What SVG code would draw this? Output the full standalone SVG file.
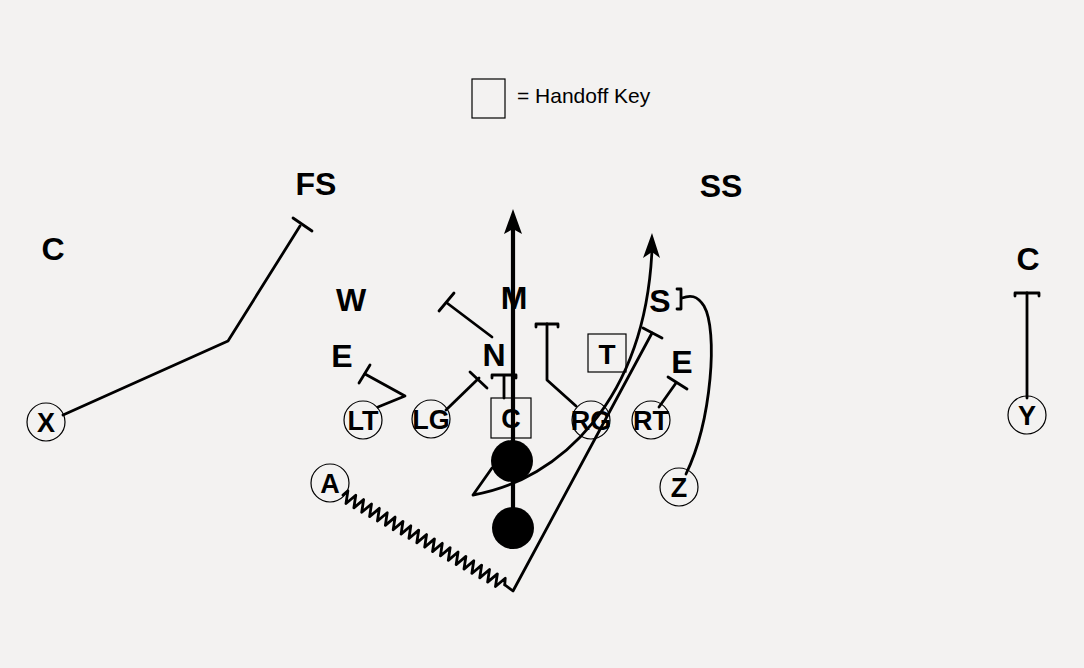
<svg xmlns="http://www.w3.org/2000/svg" width="1084" height="668" viewBox="0 0 1084 668">
<defs>
<style>
.bg{fill:#f3f2f1}
.lbl{font-family:"Liberation Sans",Arial,sans-serif;font-weight:bold;font-size:32px;fill:#000;text-anchor:middle}
.pl{font-family:"Liberation Sans",Arial,sans-serif;font-weight:bold;font-size:27px;fill:#000;text-anchor:middle}
.key{font-family:"Liberation Sans",Arial,sans-serif;font-size:21px;fill:#000}
.ring{fill:none;stroke:#000;stroke-width:1.2}
.box{fill:none;stroke:#000;stroke-width:1.2}
.rt{fill:none;stroke:#000;stroke-width:2.8;stroke-linecap:round;stroke-linejoin:round}
.thick{fill:none;stroke:#000;stroke-width:4.2}
.ball{fill:#000}
</style>
</defs>
<rect class="bg" x="0" y="0" width="1084" height="668"/>

<g id="key">
<rect class="box" x="472" y="79" width="33" height="39"/>
<text class="key" x="517" y="103">= Handoff Key</text>
</g>

<g id="connectors">
<!-- X route -->
<path class="rt" d="M63,415 L228,341 L300,226"/>
<path class="rt" d="M293,218 L312,231"/>
<!-- Y route -->
<path class="rt" d="M1027,398 L1027,293"/>
<path class="rt" d="M1015,296 L1015,293 L1039,293 L1039,296"/>
<!-- LT route -->
<path class="rt" d="M378,407 L405,396 L365,374"/>
<path class="rt" d="M359,383 L370,365"/>
<!-- LG route -->
<path class="rt" d="M446,410 L479,378"/>
<path class="rt" d="M470,372 L487,388"/>
<!-- N route -->
<path class="rt" d="M492,337 L447,303"/>
<path class="rt" d="M439,311 L454,293"/>
<!-- C route -->
<path class="rt" d="M504,398 L504,376"/>
<path class="rt" d="M492,378 L492,375 L516,375 L516,378"/>
<!-- RG route -->
<path class="rt" d="M576,406 L547,380 L547,324"/>
<path class="rt" d="M536,327 L536,324 L558,324 L558,327"/>
<!-- RT route -->
<path class="rt" d="M659,407 L676,383"/>
<path class="rt" d="M668,377 L687,389"/>
<!-- Z route -->
<path class="rt" d="M686,474 C712,420 718,330 704,306 C697,295 690,295 682,298"/>
<path class="rt" d="M677,289 L681,289 L681,309 L677,309"/>
<!-- A zigzag + route to S -->
<path class="rt" d="M0,0 l2.25,-6 l4.5,12 l4.5,-12 l4.5,12 l4.5,-12 l4.5,12 l4.5,-12 l4.5,12 l4.5,-12 l4.5,12 l4.5,-12 l4.5,12 l4.5,-12 l4.5,12 l4.5,-12 l4.5,12 l4.5,-12 l4.5,12 l4.5,-12 l4.5,12 l4.5,-12 l4.5,12 l4.5,-12 l4.5,12 l4.5,-12 l4.5,12 l4.5,-12 l4.5,12 l4.5,-12 l4.5,12 l4.5,-12 l4.5,12 l4.5,-12 l4.5,12 l4.5,-12 l4.5,12 l4.5,-12 l4.5,12 l4.5,-12 l4.5,12 l4.5,-12 l2.75,6" transform="translate(343,495) rotate(29.05)"/>
<path class="rt" d="M505,585 L513,591 L652,333"/>
<path class="rt" d="M643,328 L662,338"/>
<!-- QB / running back path to SS -->
<path class="rt" d="M492,468 L473,495 C560,480 645,400 652,250"/>
<polygon points="652,233 643,258 652,252 660,258" fill="#000"/>
<!-- main vertical dive -->
<line class="thick" x1="513" y1="528" x2="513" y2="226"/>
<polygon points="513,209 504,234 513,229 522,234" fill="#000"/>
</g>

<g id="defense">
<text class="lbl" x="316" y="195">FS</text>
<text class="lbl" x="721" y="197">SS</text>
<text class="lbl" x="53" y="260">C</text>
<text class="lbl" x="1028" y="270">C</text>
<text class="lbl" x="351" y="311">W</text>
<text class="lbl" x="514" y="309">M</text>
<text class="lbl" x="660" y="312">S</text>
<text class="lbl" x="342" y="367">E</text>
<text class="lbl" x="494" y="366">N</text>
<text class="lbl" x="682" y="373">E</text>
<g id="node-T">
<rect class="box" x="588" y="334" width="38" height="38"/>
<text class="pl" x="607" y="364" style="font-size:28px">T</text>
</g>
</g>

<g id="node-X"><circle class="ring" cx="46" cy="422" r="19"/><text class="pl" x="46" y="432">X</text></g>
<g id="node-LT"><circle class="ring" cx="363" cy="420" r="19"/><text class="pl" x="363" y="430">LT</text></g>
<g id="node-LG"><circle class="ring" cx="431" cy="419" r="19"/><text class="pl" x="431" y="429">LG</text></g>
<g id="node-C"><rect class="box" x="491" y="398" width="40" height="40"/><text class="pl" x="511" y="428">C</text></g>
<g id="node-RG"><circle class="ring" cx="591" cy="420" r="19"/><text class="pl" x="591" y="430">RG</text></g>
<g id="node-RT"><circle class="ring" cx="651" cy="420" r="19"/><text class="pl" x="651" y="430">RT</text></g>
<g id="node-Y"><circle class="ring" cx="1027" cy="415" r="19"/><text class="pl" x="1027" y="425">Y</text></g>
<g id="node-A"><circle class="ring" cx="330" cy="483" r="19"/><text class="pl" x="330" y="493">A</text></g>
<g id="node-Z"><circle class="ring" cx="679" cy="487" r="19"/><text class="pl" x="679" y="497">Z</text></g>
<g id="node-QB"><circle class="ball" cx="512" cy="461" r="21"/></g>
<g id="node-RB"><circle class="ball" cx="513" cy="528" r="21"/></g>
</svg>
